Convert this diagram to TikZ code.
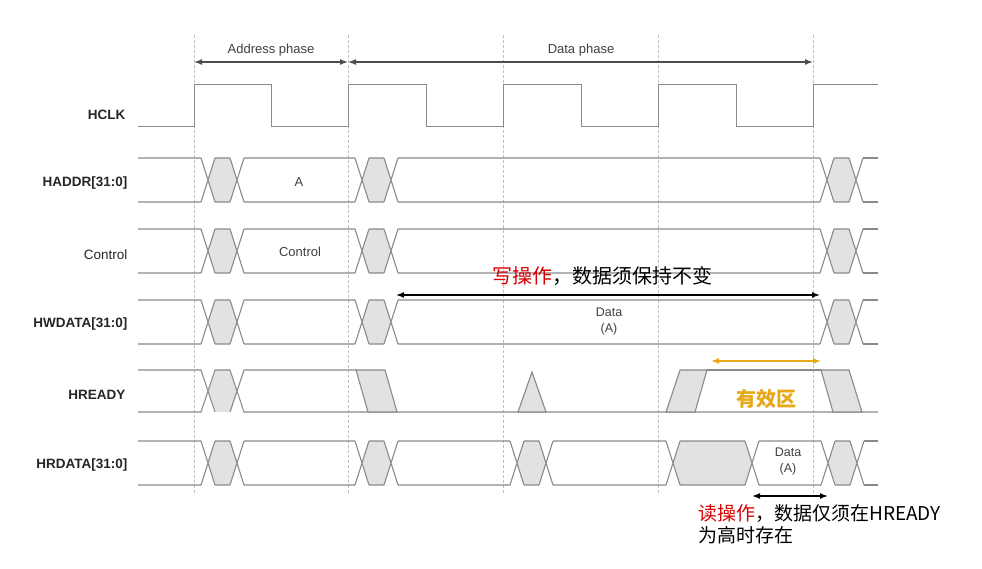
\documentclass[tikz,border=0pt]{standalone}
\usepackage{fontspec}
\setmainfont{Liberation Sans}
\newfontfamily\cjk{Noto Sans CJK SC}
\usetikzlibrary{arrows.meta}
\definecolor{sigc}{HTML}{8A8A8A}
\definecolor{gfill}{HTML}{E2E2E2}
\definecolor{gold}{HTML}{E6A817}
\newcommand\busline[3]{%
 \foreach \c [remember=\c as \p (initially 131)] in {#3}{%
   \draw[sig] (\p+7,#1)--(\c-7,#1) (\p+7,#2)--(\c-7,#2) (\c-7,#1)--(\c+7,#2) (\c-7,#2)--(\c+7,#1);
   \xdef\lastc{\c}}%
 \draw[sig] (\lastc+7,#1)--(878,#1) (\lastc+7,#2)--(878,#2);}
\newcommand\gry[4]{\fill[gfill] (#1,{(#3+#4)/2})--(#1+7,#3)--(#2-7,#3)--(#2,{(#3+#4)/2})--(#2-7,#4)--(#1+7,#4)--cycle;}
\begin{document}
\begin{tikzpicture}[x=1pt,y=-1pt,
  sig/.style={draw=sigc,line width=1.1pt},
  lab/.style={font=\bfseries\fontsize{13.5}{16}\selectfont,text=black!85,anchor=east},
  inl/.style={font=\fontsize{13}{15}\selectfont,text=black!75},
  dl/.style={densely dashed,draw=black!25,line width=0.6pt},
  darr/.style={{Latex[length=8pt,width=6pt]}-{Latex[length=8pt,width=6pt]},line width=1.5pt},
  cn/.style={font=\cjk\fontsize{20}{24}\selectfont,inner sep=0pt}]
\useasboundingbox (0,0) rectangle (982,569);
\fill[white] (0,0) rectangle (982,569);
% dashed guides
\foreach \x in {194,348,503,658,813} \draw[dl] (\x,35)--(\x,495);
% phases
\draw[darr,draw=black!70] (194,62)--(348,62);
\draw[darr,draw=black!70] (348,62)--(813,62);
\node[inl] (ap) at (271,50) {Address phase};
\node[inl] (dp) at (581,50) {Data phase};
% labels
\node[lab] (l1) at (129,115) {HCLK};
\node[lab] (l2) at (131,183) {HADDR[31:0]};
\node[lab,font=\fontsize{13.5}{16}\selectfont] (l3) at (131,255) {Control};
\node[lab] (l4) at (131,324) {HWDATA[31:0]};
\node[lab] (l5) at (129,395) {HREADY};
\node[lab] (l6) at (131,465) {HRDATA[31:0]};
% clock
\draw[sig,line width=0.9pt] (138,126)--(194,126)--(194,84)--(271,84)--(271,126)--(348,126)--(348,84)--(426,84)--(426,126)--(503,126)--(503,84)--(581,84)--(581,126)--(658,126)--(658,84)--(736,84)--(736,126)--(813,126)--(813,84)--(878,84);
% HADDR, Control, HWDATA
\foreach \t/\b in {158/202,229/273,300/344}{
  \gry{208}{237}{\t}{\b}\gry{362}{391}{\t}{\b}\gry{827}{856}{\t}{\b}
  \busline{\t}{\b}{208,237,362,391,827,856}}
\node[inl] (a) at (299,182) {A};
\node[inl] (c) at (300,252) {Control};
\node[inl,align=center,font=\fontsize{12.5}{16}\selectfont] (d) at (609,321) {Data\\(A)};
% HREADY
\gry{208}{237}{370}{412}
\draw[sig] (138,370)--(201,370)--(215,412) (138,412)--(201,412)--(215,370)--(230,370)--(244,412)--(878,412) (230,412)--(244,370)--(356,370);
\filldraw[sig,fill=gfill] (356,370)--(385,370)--(397,412)--(368,412)--cycle;
\filldraw[sig,fill=gfill] (518,412)--(532,372)--(546,412)--cycle;
\filldraw[sig,fill=gfill] (666,412)--(680,370)--(707,370)--(695,412)--cycle;
\draw[sig] (707,370)--(821,370);
\filldraw[sig,fill=gfill] (821,370)--(849,370)--(862,412)--(833,412)--cycle;
% HRDATA
\gry{208}{237}{441}{485}\gry{362}{391}{441}{485}\gry{517}{546}{441}{485}\gry{673}{752}{441}{485}\gry{828}{857}{441}{485}
\busline{441}{485}{208,237,362,391,517,546,673,752,828,857}
\node[inl,align=center,font=\fontsize{12.5}{16}\selectfont] (d2) at (788,461) {Data\\(A)};
% annotations
\coordinate (w1) at (396,295); \coordinate (w2) at (820,295);
\draw[darr] (w1)--(w2);
\node[cn] (wt) at (602,276) {\textcolor{red!85!black}{写操作}，数据须保持不变};
\coordinate (y1) at (711,361); \coordinate (y2) at (821,361);
\draw[darr,draw=gold] (y1)--(y2);
\node[cn,text=gold,font=\cjk\bfseries\fontsize{20}{24}\selectfont] (yx) at (766,399) {有效区};
\coordinate (r1) at (752,496); \coordinate (r2) at (828,496);
\draw[darr] (r1)--(r2);
\node[cn,anchor=north west,align=left,font=\cjk\fontsize{19}{22}\selectfont] (rt) at (698,504) {\textcolor{red!85!black}{读操作}，数据仅须在HREADY\\为高时存在};
\end{tikzpicture}
\end{document}
